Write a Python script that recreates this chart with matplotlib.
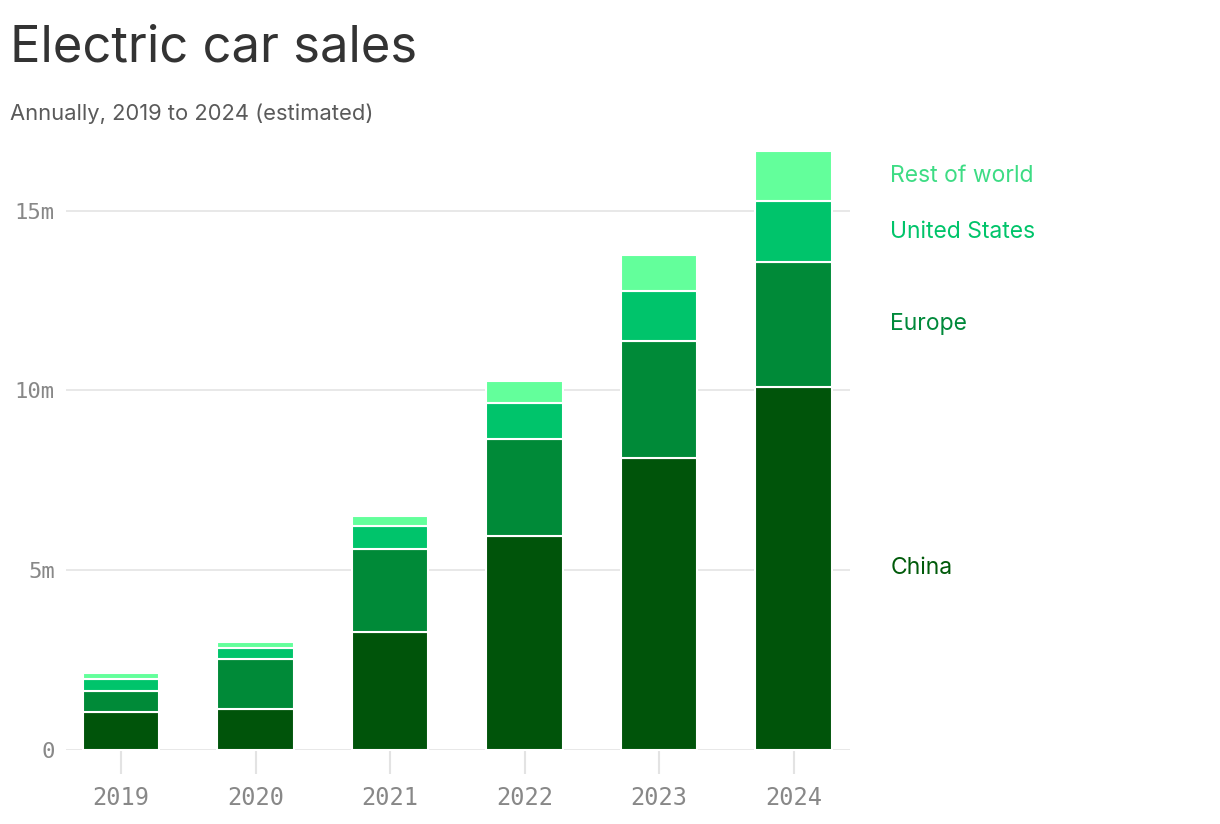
import matplotlib
matplotlib.use("Agg")
import matplotlib.pyplot as plt
import numpy as np

# Data (millions of cars)
years = ["2019", "2020", "2021", "2022", "2023", "2024"]
china = [1.04, 1.13, 3.26, 5.94, 8.12, 10.10]
europe = [0.58, 1.38, 2.32, 2.71, 3.24, 3.46]
united_states = [0.34, 0.31, 0.64, 0.98, 1.40, 1.71]
rest_of_world = [0.18, 0.18, 0.28, 0.62, 1.01, 1.39]

series_names = ["China", "Europe", "United States", "Rest of world"]
bar_colors = ["#00540a", "#008a38", "#00c46b", "#63ff9b"]
label_colors = ["#005a0a", "#00893a", "#00c46a", "#3ddc84"]
yticks = [0, 5, 10, 15]
ytick_labels = ["0", "5m", "10m", "15m"]

W, H = 1220, 824
fig = plt.figure(figsize=(W / 100, H / 100), dpi=100)
ax_left, ax_right, ax_bottom, ax_top = 66, 850, 749.5, 150
ax = fig.add_axes([ax_left / W, 1 - ax_bottom / H,
                   (ax_right - ax_left) / W, (ax_bottom - ax_top) / H])

x = np.arange(len(years))
bar_width = 0.57
bottom = np.zeros(len(years))
all_series = [china, europe, united_states, rest_of_world]
for vals, color in zip(all_series, bar_colors):
    ax.bar(x, vals, bar_width, bottom=bottom, color=color,
           edgecolor="white", linewidth=1.5, zorder=3, clip_on=False)
    bottom = bottom + np.array(vals)

# labels at the middle of each segment of the last bar
base = 0.0
for name, vals, color in zip(series_names, all_series, label_colors):
    mid = base + vals[-1] / 2
    base += vals[-1]
    ax.annotate(name, xy=(x[-1] + bar_width / 2, mid), xytext=(42, 0),
                textcoords="offset points", ha="left", va="center",
                fontsize=16.5, color=color, family="Inter")

ax.set_xlim(-0.41, len(years) - 1 + 0.42)
ax.set_ylim(0, (ax_bottom - ax_top) / 35.93)

ax.set_yticks(yticks)
ax.set_yticklabels(ytick_labels)
ax.set_xticks(x)
ax.set_xticklabels(years)
ax.grid(axis="y", color="#e6e6e6", linewidth=1.3, zorder=0)
ax.tick_params(axis="y", length=0, pad=8, labelsize=16, labelcolor="#888888")
ax.tick_params(axis="x", length=17, width=1.5, color="#e3e3e3", pad=9,
               labelsize=17, labelcolor="#888888")
for lab in ax.get_xticklabels() + ax.get_yticklabels():
    lab.set_family("DejaVu Sans Mono")
for s in ax.spines.values():
    s.set_visible(False)

fig.text(10 / W, 1 - 62 / H, "Electric car sales", fontsize=36.5, color="#333333",
         family="Inter", ha="left", va="baseline")
fig.text(10 / W, 1 - 120 / H, "Annually, 2019 to 2024 (estimated)", fontsize=15.8,
         color="#5a5a5a", family="Inter", ha="left", va="baseline")

fig.savefig("out.png", dpi=100, facecolor="white")
